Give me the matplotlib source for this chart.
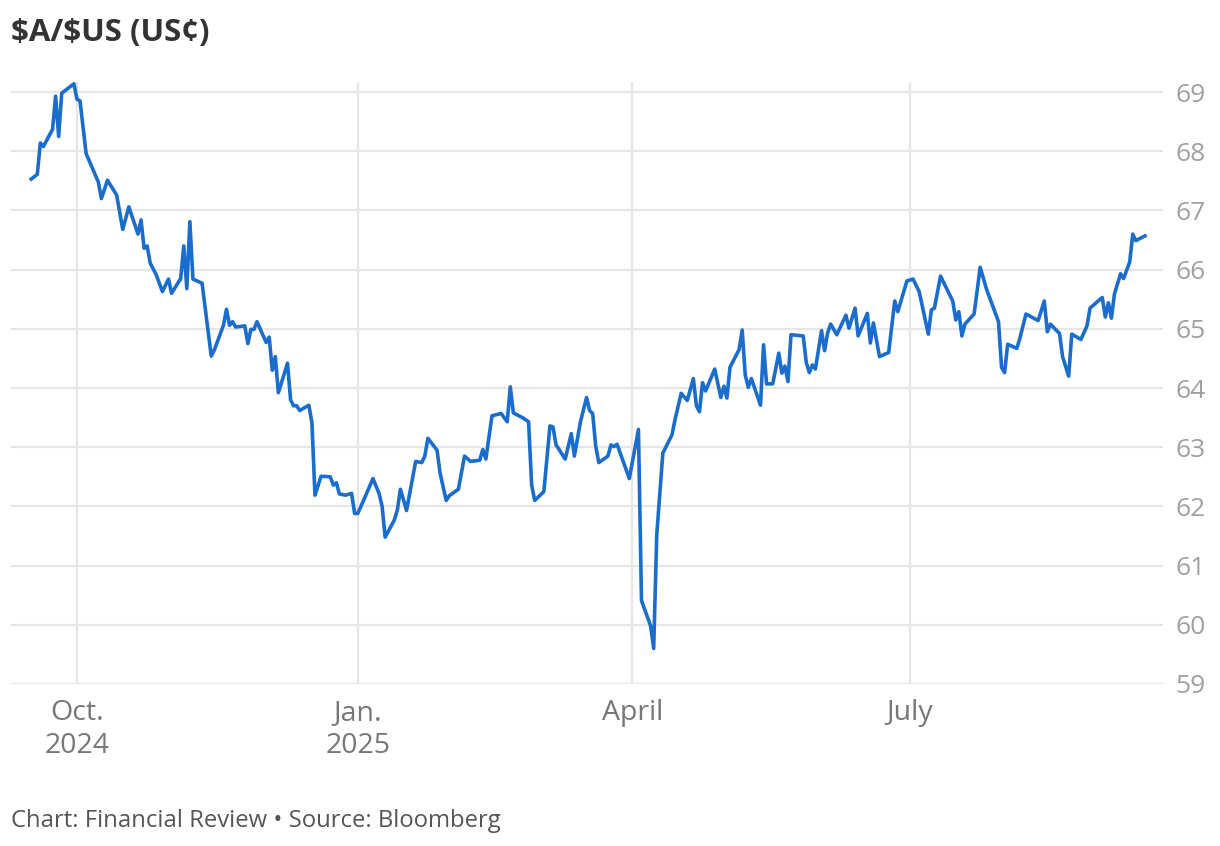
import matplotlib
matplotlib.use('Agg')
import matplotlib.pyplot as plt
import pandas as pd

# $A/$US daily close, US cents
dates = [
    '2024-09-16', '2024-09-18', '2024-09-19', '2024-09-20', '2024-09-23', '2024-09-24',
    '2024-09-25', '2024-09-26', '2024-09-28', '2024-09-30', '2024-10-01', '2024-10-02',
    '2024-10-04', '2024-10-08', '2024-10-09', '2024-10-11', '2024-10-14', '2024-10-16',
    '2024-10-18', '2024-10-21', '2024-10-22', '2024-10-23', '2024-10-24', '2024-10-25',
    '2024-10-27', '2024-10-29', '2024-10-31', '2024-11-01', '2024-11-04', '2024-11-05',
    '2024-11-06', '2024-11-07', '2024-11-08', '2024-11-11', '2024-11-14', '2024-11-15',
    '2024-11-18', '2024-11-19', '2024-11-20', '2024-11-21', '2024-11-22', '2024-11-25',
    '2024-11-26', '2024-11-27', '2024-11-28', '2024-11-29', '2024-12-02', '2024-12-03',
    '2024-12-04', '2024-12-05', '2024-12-06', '2024-12-09', '2024-12-10', '2024-12-11',
    '2024-12-12', '2024-12-13', '2024-12-16', '2024-12-17', '2024-12-18', '2024-12-20',
    '2024-12-23', '2024-12-24', '2024-12-25', '2024-12-26', '2024-12-28', '2024-12-30',
    '2024-12-31', '2025-01-01', '2025-01-03', '2025-01-06', '2025-01-08', '2025-01-09',
    '2025-01-10', '2025-01-13', '2025-01-14', '2025-01-15', '2025-01-17', '2025-01-20',
    '2025-01-22', '2025-01-23', '2025-01-24', '2025-01-27', '2025-01-28', '2025-01-30',
    '2025-01-31', '2025-02-03', '2025-02-05', '2025-02-07', '2025-02-10', '2025-02-11',
    '2025-02-12', '2025-02-14', '2025-02-17', '2025-02-19', '2025-02-20', '2025-02-21',
    '2025-02-24', '2025-02-26', '2025-02-27', '2025-02-28', '2025-03-03', '2025-03-05',
    '2025-03-06', '2025-03-07', '2025-03-10', '2025-03-12', '2025-03-13', '2025-03-15',
    '2025-03-17', '2025-03-18', '2025-03-19', '2025-03-20', '2025-03-21', '2025-03-24',
    '2025-03-25', '2025-03-26', '2025-03-27', '2025-03-31', '2025-04-03', '2025-04-04',
    '2025-04-07', '2025-04-08', '2025-04-09', '2025-04-11', '2025-04-14', '2025-04-15',
    '2025-04-17', '2025-04-19', '2025-04-21', '2025-04-22', '2025-04-23', '2025-04-24',
    '2025-04-25', '2025-04-28', '2025-04-30', '2025-05-01', '2025-05-02', '2025-05-03',
    '2025-05-06', '2025-05-07', '2025-05-08', '2025-05-09', '2025-05-10', '2025-05-13',
    '2025-05-14', '2025-05-15', '2025-05-17', '2025-05-19', '2025-05-20', '2025-05-21',
    '2025-05-22', '2025-05-23', '2025-05-27', '2025-05-28', '2025-05-29', '2025-05-30',
    '2025-05-31', '2025-06-02', '2025-06-03', '2025-06-04', '2025-06-05', '2025-06-07',
    '2025-06-10', '2025-06-11', '2025-06-13', '2025-06-14', '2025-06-17', '2025-06-18',
    '2025-06-19', '2025-06-21', '2025-06-24', '2025-06-26', '2025-06-27', '2025-06-30',
    '2025-07-02', '2025-07-04', '2025-07-07', '2025-07-08', '2025-07-09', '2025-07-11',
    '2025-07-15', '2025-07-16', '2025-07-17', '2025-07-18', '2025-07-19', '2025-07-22',
    '2025-07-24', '2025-07-26', '2025-07-30', '2025-07-31', '2025-08-01', '2025-08-02',
    '2025-08-05', '2025-08-06', '2025-08-08', '2025-08-12', '2025-08-14', '2025-08-15',
    '2025-08-16', '2025-08-19', '2025-08-20', '2025-08-22', '2025-08-23', '2025-08-26',
    '2025-08-28', '2025-08-29', '2025-09-02', '2025-09-03', '2025-09-04', '2025-09-05',
    '2025-09-06', '2025-09-08', '2025-09-09', '2025-09-11', '2025-09-12', '2025-09-13',
    '2025-09-16',
]
aud_usd = [
    67.53, 67.61, 68.14, 68.08, 68.37, 68.93,
    68.25, 68.98, 69.06, 69.14, 68.88, 68.85,
    67.96, 67.48, 67.20, 67.51, 67.26, 66.68,
    67.06, 66.60, 66.84, 66.36, 66.40, 66.11,
    65.91, 65.63, 65.84, 65.60, 65.85, 66.40,
    65.68, 66.81, 65.84, 65.77, 64.54, 64.64,
    65.06, 65.33, 65.06, 65.12, 65.03, 65.05,
    64.75, 64.99, 64.99, 65.12, 64.77, 64.86,
    64.30, 64.53, 63.92, 64.42, 63.80, 63.70,
    63.70, 63.62, 63.71, 63.41, 62.19, 62.51,
    62.50, 62.36, 62.40, 62.21, 62.19, 62.22,
    61.88, 61.88, 62.11, 62.47, 62.22, 62.00,
    61.48, 61.77, 61.94, 62.29, 61.93, 62.76,
    62.74, 62.85, 63.15, 62.95, 62.56, 62.10,
    62.18, 62.29, 62.85, 62.76, 62.78, 62.96,
    62.80, 63.53, 63.57, 63.43, 64.02, 63.58,
    63.50, 63.43, 62.36, 62.10, 62.25, 63.36,
    63.34, 63.04, 62.80, 63.23, 62.85, 63.43,
    63.84, 63.62, 63.57, 63.02, 62.74, 62.85,
    63.04, 63.01, 63.05, 62.47, 63.30, 60.41,
    59.98, 59.60, 61.52, 62.90, 63.21, 63.47,
    63.91, 63.79, 64.16, 63.70, 63.60, 64.09,
    63.95, 64.32, 63.84, 64.03, 63.83, 64.35,
    64.65, 64.98, 64.22, 64.01, 64.16, 63.71,
    64.73, 64.07, 64.07, 64.59, 64.25, 64.37,
    64.11, 64.90, 64.88, 64.43, 64.26, 64.39,
    64.32, 64.97, 64.63, 64.93, 65.08, 64.90,
    65.23, 65.01, 65.35, 64.88, 65.26, 64.76,
    65.10, 64.53, 64.60, 65.47, 65.29, 65.81,
    65.84, 65.63, 64.91, 65.32, 65.35, 65.89,
    65.47, 65.15, 65.29, 64.88, 65.08, 65.25,
    66.04, 65.68, 65.12, 64.35, 64.26, 64.74,
    64.67, 64.84, 65.25, 65.14, 65.47, 64.95,
    65.08, 64.92, 64.53, 64.20, 64.91, 64.82,
    65.05, 65.35, 65.53, 65.20, 65.44, 65.18,
    65.59, 65.93, 65.85, 66.13, 66.60, 66.49,
    66.57,
]

tick_dates = ['2024-10-01', '2025-01-01', '2025-04-01', '2025-07-01']
tick_labels = ['Oct.\n2024', 'Jan.\n2025', 'April', 'July']
y_ticks = list(range(59, 70))

title = r'\$A/\$US (US¢)'
footer = 'Chart: Financial Review • Source: Bloomberg'

plt.rcParams['font.family'] = ['Open Sans', 'DejaVu Sans']

x = pd.to_datetime(dates)

fig = plt.figure(figsize=(12.2, 8.46), dpi=100)
ax = fig.add_axes([0.009, 0.1915, 0.9443, 0.7116])

ax.plot(x, aud_usd, color='#1a6dcc', lw=2.6, solid_joinstyle='round', zorder=3)

ax.set_xlim(pd.Timestamp('2024-09-09 09:00'), pd.Timestamp('2025-09-21 22:00'))
ax.set_ylim(59, 69.17)

ax.set_yticks(y_ticks)
ax.yaxis.tick_right()
ax.tick_params(axis='y', length=0, pad=9, labelsize=19, labelcolor='#a0a0a0')

ax.set_xticks(pd.to_datetime(tick_dates))
ax.set_xticklabels(tick_labels, linespacing=1.22)
ax.tick_params(axis='x', length=0, pad=11, labelsize=20.5, labelcolor='#777777')

ax.grid(True, color='#e6e6e6', lw=1.6)
ax.set_axisbelow(True)
for s in ax.spines.values():
    s.set_visible(False)

fig.text(0.009, 0.961, title, fontsize=22.5, fontweight='bold', color='#333333', va='center')
fig.text(0.009, 0.030, footer, fontsize=17.2, color='#555555', va='center')

plt.savefig('out.png', dpi=100)
